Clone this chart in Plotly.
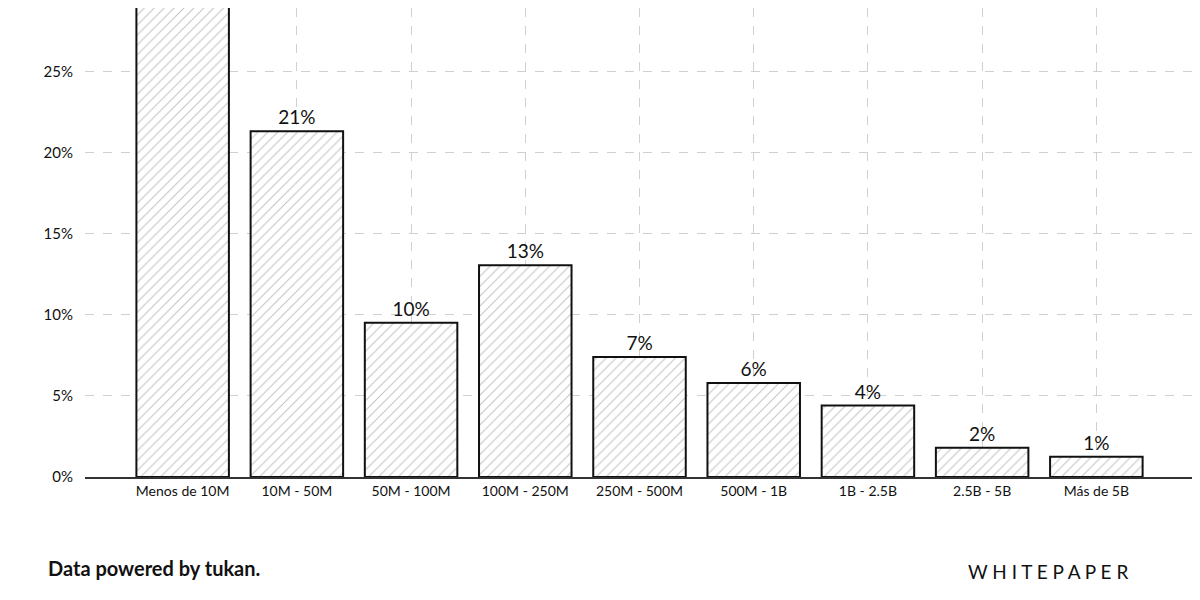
import plotly.graph_objects as go

categories = ["Menos de 10M","10M - 50M","50M - 100M","100M - 250M","250M - 500M","500M - 1B","1B - 2.5B","2.5B - 5B","Más de 5B"]
values = [35.0, 21.3, 9.5, 13.05, 7.4, 5.8, 4.4, 1.8, 1.25]
labels = ["35%","21%","10%","13%","7%","6%","4%","2%","1%"]
yticks = [0, 5, 10, 15, 20, 25]
ytick_text = ["0%","5%","10%","15%","20%","25%"]

font = "Lato"
L, B = 77, 131
fig = go.Figure(go.Bar(
    x=categories, y=values, text=labels, textposition="outside",
    textfont=dict(size=19, color="#111", family=font),
    marker=dict(color="white", line=dict(color="#111", width=2),
                pattern=dict(shape="/", fgcolor="#888", bgcolor="white", size=7, solidity=0.15)),
    width=0.81, cliponaxis=True))
fig.update_layout(
    width=1200, height=600, paper_bgcolor="white", plot_bgcolor="white",
    margin=dict(l=L, r=10, t=0, b=B, autoexpand=False), showlegend=False,
    font=dict(family=font, color="#111"),
    xaxis=dict(range=[-0.855, 8.89], showgrid=True, gridcolor="#d0d0d0", griddash="dash",
               tickfont=dict(size=14), showline=True, linecolor="#333", linewidth=1.5, ticks="",
               automargin=False),
    yaxis=dict(range=[0, 28.9], tickvals=yticks, ticktext=ytick_text, showgrid=True, automargin=False,
               gridcolor="#d0d0d0", griddash="dash", zeroline=False, tickfont=dict(size=15), ticklen=8, ticks="outside", tickcolor="white"),
    annotations=[
        dict(text="<b>Data powered by tukan.</b>", x=(38 - L) / (1200 - L - 10), y=(40 - B) / (600 - B),
             xref="paper", yref="paper", showarrow=False,
             font=dict(size=20, family=font), xanchor="left", yanchor="middle"),
        dict(text="W H I T E P A P E R", x=(1122 - L) / (1200 - L - 10), y=(37 - B) / (600 - B),
             xref="paper", yref="paper", showarrow=False, font=dict(size=19, family=font),
             xanchor="right", yanchor="middle"),
    ])
fig.write_html("out.html")
